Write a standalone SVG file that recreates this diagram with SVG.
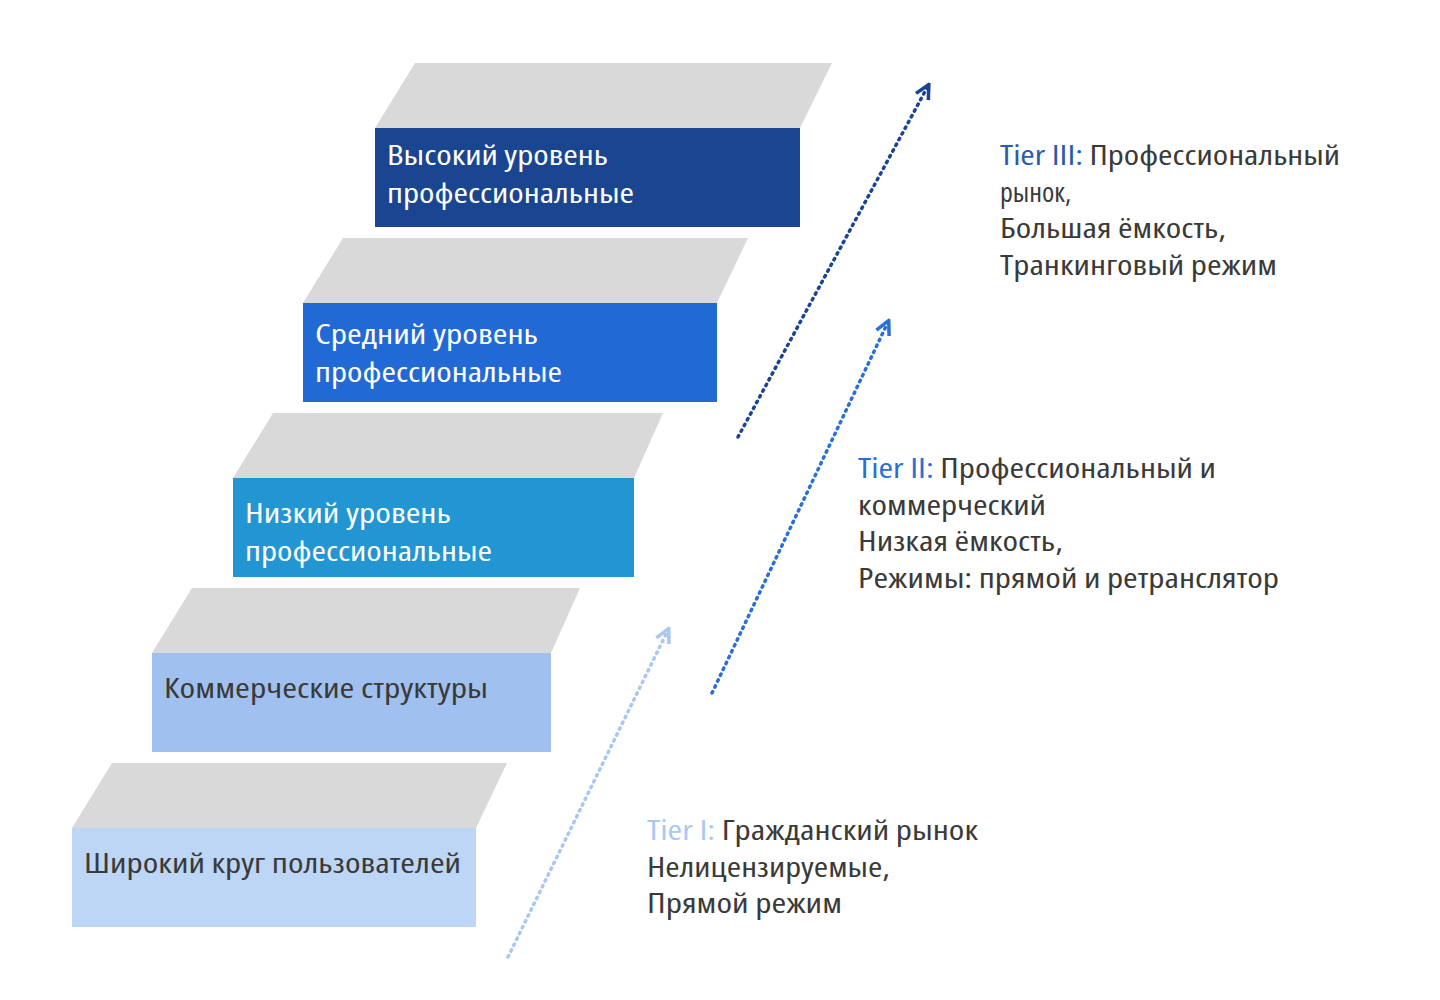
<svg xmlns="http://www.w3.org/2000/svg" width="1440" height="1000" viewBox="0 0 1440 1000">
<style>
.top{fill:#d9d9d9}
text{font-family:"Open Sans","Noto Sans","Liberation Sans",sans-serif;font-size:28px;font-stretch:condensed}
.w{fill:#ffffff}.d{fill:#3a3a3a}
.c{fill:none;stroke-width:3.5;stroke-dasharray:1.5 5;stroke-linecap:round}
</style>
<defs>
<marker id="m1" viewBox="0 0 10 10" refX="8" refY="5" markerWidth="5" markerHeight="5" orient="auto"><path d="M1 1L9 5L1 9" fill="none" stroke="#a9c8f0" stroke-width="2"/></marker>
<marker id="m2" viewBox="0 0 10 10" refX="8" refY="5" markerWidth="5" markerHeight="5" orient="auto"><path d="M1 1L9 5L1 9" fill="none" stroke="#2a6fd6" stroke-width="2"/></marker>
<marker id="m3" viewBox="0 0 10 10" refX="8" refY="5" markerWidth="5" markerHeight="5" orient="auto"><path d="M1 1L9 5L1 9" fill="none" stroke="#1b4594" stroke-width="2"/></marker>
</defs>
<rect width="1440" height="1000" fill="#fff"/>
<g id="step1"><polygon class="top" points="72,828 476,828 507,763 112,763"/><rect x="72" y="828" width="404" height="99" fill="#bdd6f5"/><text class="d" x="84" y="873" textLength="377" lengthAdjust="spacingAndGlyphs">Широкий круг пользователей</text></g>
<g id="step2"><polygon class="top" points="152,653 551,653 580,588 192,588"/><rect x="152" y="653" width="399" height="99" fill="#a0c1ef"/><text class="d" x="164" y="698" textLength="324" lengthAdjust="spacingAndGlyphs">Коммерческие структуры</text></g>
<g id="step3"><polygon class="top" points="233,478 634,478 663,413 273,413"/><rect x="233" y="478" width="401" height="99" fill="#2196d3"/><text class="w" x="245" y="523" textLength="206" lengthAdjust="spacingAndGlyphs">Низкий уровень</text><text class="w" x="245" y="561" textLength="247" lengthAdjust="spacingAndGlyphs">профессиональные</text></g>
<g id="step4"><polygon class="top" points="303,303 717,303 748,238 343,238"/><rect x="303" y="303" width="414" height="99" fill="#2169d4"/><text class="w" x="315" y="344" textLength="223" lengthAdjust="spacingAndGlyphs">Средний уровень</text><text class="w" x="315" y="382" textLength="247" lengthAdjust="spacingAndGlyphs">профессиональные</text></g>
<g id="step5"><polygon class="top" points="375,128 800,128 832,63 415,63"/><rect x="375" y="128" width="425" height="99" fill="#1a4590"/><text class="w" x="387" y="165" textLength="221" lengthAdjust="spacingAndGlyphs">Высокий уровень</text><text class="w" x="387" y="203" textLength="247" lengthAdjust="spacingAndGlyphs">профессиональные</text></g>
<g id="connectors">
<line class="c" x1="508" y1="957" x2="668" y2="630" stroke="#a9c8f0" marker-end="url(#m1)"/>
<line class="c" x1="712" y1="693" x2="888" y2="322" stroke="#2a6fd6" marker-end="url(#m2)"/>
<line class="c" x1="738" y1="437" x2="928" y2="86" stroke="#1b4594" marker-end="url(#m3)"/>
</g>
<g id="tier3"><text class="d" x="1000" y="165" textLength="340" lengthAdjust="spacingAndGlyphs"><tspan fill="#2a5caa">Tier III:</tspan> Профессиональный</text><text class="d" x="1000" y="202">рынок,</text><text class="d" x="1000" y="238" textLength="226" lengthAdjust="spacingAndGlyphs">Большая ёмкость,</text><text class="d" x="1000" y="275" textLength="277" lengthAdjust="spacingAndGlyphs">Транкинговый режим</text></g>
<g id="tier2"><text class="d" x="858" y="478" textLength="358" lengthAdjust="spacingAndGlyphs"><tspan fill="#2a6fd6">Tier II:</tspan> Профессиональный и</text><text class="d" x="858" y="515" textLength="188" lengthAdjust="spacingAndGlyphs">коммерческий</text><text class="d" x="858" y="551" textLength="205" lengthAdjust="spacingAndGlyphs">Низкая ёмкость,</text><text class="d" x="858" y="588" textLength="421" lengthAdjust="spacingAndGlyphs">Режимы: прямой и ретранслятор</text></g>
<g id="tier1"><text class="d" x="647" y="840" textLength="331" lengthAdjust="spacingAndGlyphs"><tspan fill="#a9c8f0">Tier I:</tspan> Гражданский рынок</text><text class="d" x="647" y="877" textLength="243" lengthAdjust="spacingAndGlyphs">Нелицензируемые,</text><text class="d" x="647" y="913" textLength="195" lengthAdjust="spacingAndGlyphs">Прямой режим</text></g>
</svg>
